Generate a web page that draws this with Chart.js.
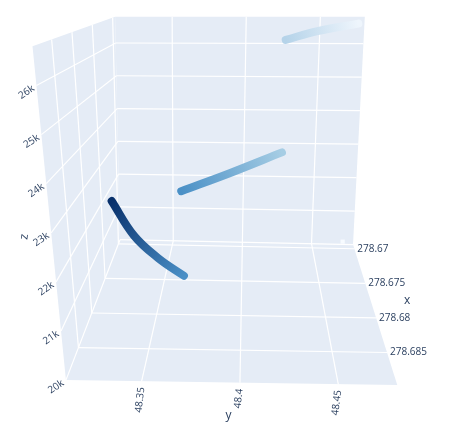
<!DOCTYPE html>
<html><head><meta charset="utf-8">
<script src="https://cdn.jsdelivr.net/npm/chart.js@4"></script>
<style>html,body{margin:0;padding:0;background:#fff}canvas{display:block}</style>
</head><body>
<canvas id="c" width="474" height="444"></canvas>
<script>
// data (3D)
const track1Y = [48.319, 48.332, 48.347, 48.363];
const track1Z = [22150, 21240, 20650, 20200];
const track2Y = [48.362, 48.392, 48.423];
const track2Z = [22430, 22920, 23470];
const track3Y = [48.423, 48.441, 48.464];
const track3Z = [26410, 26640, 26830];
const pointY = [48.463];
const pointZ = [21160];
const trackX = 278.6755;
const xTicks = [278.67, 278.675, 278.68, 278.685];
const yTicks = [48.35, 48.4, 48.45];
const zTicks = [20000, 21000, 22000, 23000, 24000, 25000, 26000];
const zTickLabels = ['20k','21k','22k','23k','24k','25k','26k'];

// scene
const XR = [278.6694, 278.6897], YR = [48.3115, 48.48], ZR = [20000, 26800];
const C = {
  b0l:[118,240], b0r:[355,245], b1l:[113,13], b1r:[367,13],
  f0l:[63,383], f0r:[400,388], f1l:[29,43], f1r:[440,40]
};
function lerp(a,b,t){return [a[0]+(b[0]-a[0])*t, a[1]+(b[1]-a[1])*t];}
function proj(x,y,z){
  const v=(x-XR[0])/(XR[1]-XR[0]), u=(y-YR[0])/(YR[1]-YR[0]), w=(z-ZR[0])/(ZR[1]-ZR[0]);
  const back=lerp(lerp(C.b0l,C.b0r,u),lerp(C.b1l,C.b1r,u),w);
  const front=lerp(lerp(C.f0l,C.f0r,u),lerp(C.f1l,C.f1r,u),w);
  const p=lerp(back,front,v); return {x:p[0],y:p[1]};
}
function track(Y,Z){return Y.map((y,i)=>proj(trackX,y,Z[i]));}
function gradColor(c0,c1){return ctx=>{
  const ch=ctx.chart; if(!ch.chartArea) return c0;
  const d=ch.data.datasets[ctx.datasetIndex].data, a=d[0], b=d[d.length-1];
  const sx=ch.scales.x, sy=ch.scales.y;
  const g=ch.ctx.createLinearGradient(sx.getPixelForValue(a.x),sy.getPixelForValue(a.y),sx.getPixelForValue(b.x),sy.getPixelForValue(b.y));
  g.addColorStop(0,c0);g.addColorStop(1,c1);return g;};}
function lineDs(Y,Z,c0,c1){return {data:track(Y,Z),showLine:true,borderWidth:8,tension:0.4,
  borderCapStyle:'round',borderJoinStyle:'round',pointRadius:0,borderColor:gradColor(c0,c1)};}

const scenePlugin={id:'scene',beforeDatasetsDraw(ch){
  const g=ch.ctx,sx=ch.scales.x,sy=ch.scales.y;
  const P=(x,y,z)=>{const p=proj(x,y,z);return [sx.getPixelForValue(p.x),sy.getPixelForValue(p.y)];};
  const poly=(pts)=>{g.beginPath();pts.forEach((p,i)=>i?g.lineTo(p[0],p[1]):g.moveTo(p[0],p[1]));g.closePath();g.fill();};
  const line=(a,b)=>{g.beginPath();g.moveTo(a[0],a[1]);g.lineTo(b[0],b[1]);g.stroke();};
  g.save();g.fillStyle='#e5ecf6';
  poly([P(XR[0],YR[0],ZR[0]),P(XR[0],YR[1],ZR[0]),P(XR[0],YR[1],ZR[1]),P(XR[0],YR[0],ZR[1])]);
  poly([P(XR[0],YR[0],ZR[0]),P(XR[1],YR[0],ZR[0]),P(XR[1],YR[0],ZR[1]),P(XR[0],YR[0],ZR[1])]);
  poly([P(XR[0],YR[0],ZR[0]),P(XR[1],YR[0],ZR[0]),P(XR[1],YR[1],ZR[0]),P(XR[0],YR[1],ZR[0])]);
  g.strokeStyle='#ffffff';g.lineWidth=1.2;
  yTicks.forEach(y=>{line(P(XR[0],y,ZR[0]),P(XR[0],y,ZR[1]));line(P(XR[0],y,ZR[0]),P(XR[1],y,ZR[0]));});
  zTicks.forEach(z=>{line(P(XR[0],YR[0],z),P(XR[0],YR[1],z));line(P(XR[0],YR[0],z),P(XR[1],YR[0],z));});
  xTicks.forEach(x=>{line(P(x,YR[0],ZR[0]),P(x,YR[1],ZR[0]));line(P(x,YR[0],ZR[0]),P(x,YR[0],ZR[1]));});
  g.fillStyle='#2a3f5f';g.font='10px "Open Sans", sans-serif';
  zTicks.forEach((z,i)=>{const p=P(XR[1],YR[0],z);g.save();g.translate(p[0]-3,p[1]+2);g.rotate(-0.6);
    g.textAlign='right';g.textBaseline='middle';g.fillText(zTickLabels[i],0,0);g.restore();});
  yTicks.forEach(y=>{const p=P(XR[1],y,ZR[0]);g.save();g.translate(p[0],p[1]+6);g.rotate(-1.45);
    g.textAlign='right';g.textBaseline='middle';g.fillText(String(y),0,0);g.restore();});
  xTicks.forEach(x=>{const p=P(x,YR[1],ZR[0]);g.textAlign='left';g.textBaseline='middle';g.fillText(String(x),p[0]+3,p[1]);});
  g.font='12px "Open Sans", sans-serif';g.textAlign='center';g.textBaseline='middle';
  const zp=P(XR[1],YR[0],23000);
  g.save();g.translate(zp[0]-27,zp[1]+4);g.rotate(-1.45);g.fillText('z',0,0);g.restore();
  const yp=P(XR[1],(YR[0]+YR[1])/2,ZR[0]);g.fillText('y',yp[0]-3,yp[1]+33);
  const xp=P((XR[0]+XR[1])/2,YR[1],ZR[0]);g.fillText('x',xp[0]+32,xp[1]-14);
  g.restore();
}};

new Chart(document.getElementById('c'),{type:'scatter',
  data:{datasets:[
    lineDs(track1Y,track1Z,'#08306b','#4a8fc6'),
    lineDs(track2Y,track2Z,'#4a90c6','#a6cde4'),
    lineDs(track3Y,track3Z,'#b5d3e9','#eef5fc'),
    {data:track(pointY,pointZ),pointRadius:3,pointStyle:'rect',backgroundColor:'#f7fbff',borderWidth:0}
  ]},
  options:{responsive:false,animation:false,layout:{padding:0},
    plugins:{legend:{display:false},tooltip:{enabled:false}},
    scales:{x:{type:'linear',min:0,max:474,display:false},y:{type:'linear',min:0,max:444,reverse:true,display:false}}},
  plugins:[scenePlugin]});
</script>
</body></html>
